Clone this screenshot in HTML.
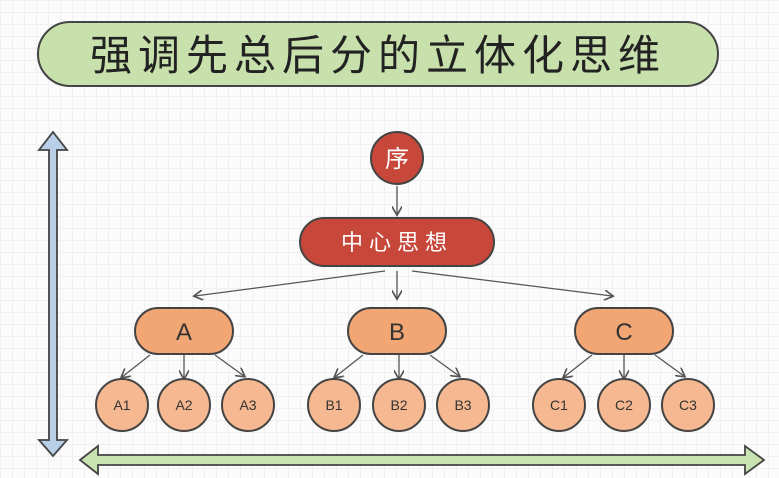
<!DOCTYPE html>
<html><head><meta charset="utf-8"><style>
body{margin:0;width:779px;height:478px;overflow:hidden;background:#fbfbfb;
background-image:linear-gradient(#f0f0f0 1px,transparent 1px),linear-gradient(90deg,#f0f0f0 1px,transparent 1px);background-size:12px 12px;}
svg{position:absolute;left:0;top:0}
text{font-family:"Liberation Sans","WenQuanYi Zen Hei","Noto Sans CJK SC",sans-serif;}
</style></head><body>
<svg width="779" height="478" viewBox="0 0 779 478">
<defs><marker id="a" markerWidth="8" markerHeight="8" refX="6" refY="4" orient="auto"><path d="M0,0 L7,4 L0,8" fill="none" stroke="#555" stroke-width="1.3"/></marker></defs>
<rect x="38" y="22" width="680" height="64" rx="32" fill="#c8e0ac" stroke="#444" stroke-width="2"/>
<text x="378" y="70" font-size="42" text-anchor="middle" fill="#222" letter-spacing="6">强调先总后分的立体化思维</text>
<!-- vertical arrow -->
<path d="M49,440 L49,150 L39,150 L53,132 L67,150 L57,150 L57,440 L67,440 L53,456 L39,440 Z" fill="#b9cfe8" stroke="#444" stroke-width="1.8"/>
<!-- horizontal arrow -->
<path d="M98,455 L745,455 L745,446 L764,460 L745,474 L745,465 L98,465 L98,474 L80,460 L98,446 Z" fill="#c9e2b2" stroke="#444" stroke-width="1.8"/>
<g stroke="#555" stroke-width="1.3" marker-end="url(#a)" fill="none">
<line x1="397" y1="186" x2="397" y2="214"/>
<line x1="385" y1="271" x2="195" y2="296"/>
<line x1="397" y1="271" x2="397" y2="298"/>
<line x1="412" y1="271" x2="612" y2="296"/>
<line x1="150" y1="355" x2="122" y2="377"/>
<line x1="184" y1="355" x2="184" y2="378"/>
<line x1="215" y1="355" x2="244" y2="376"/>
<line x1="363" y1="355" x2="335" y2="377"/>
<line x1="399" y1="355" x2="399" y2="378"/>
<line x1="430" y1="355" x2="459" y2="376"/>
<line x1="592" y1="355" x2="564" y2="377"/>
<line x1="624" y1="355" x2="624" y2="378"/>
<line x1="655" y1="355" x2="684" y2="376"/>
</g>
<circle cx="397" cy="158" r="26" fill="#c7473a" stroke="#444" stroke-width="2"/>
<text x="397" y="167" font-size="24" text-anchor="middle" fill="#fff">序</text>
<rect x="300" y="218" width="194" height="48" rx="24" fill="#c7473a" stroke="#444" stroke-width="2"/>
<text x="397" y="250" font-size="22" text-anchor="middle" fill="#fff" letter-spacing="6">中心思想</text>
<g stroke="#444" stroke-width="2" fill="#f2a674">
<rect x="135" y="308" width="98" height="46" rx="23"/>
<rect x="348" y="308" width="98" height="46" rx="23"/>
<rect x="575" y="308" width="98" height="46" rx="23"/>
</g>
<g font-size="24" text-anchor="middle" fill="#333">
<text x="184" y="340">A</text><text x="397" y="340">B</text><text x="624" y="340">C</text>
</g>
<g stroke="#444" stroke-width="2" fill="#f5b890">
<circle cx="122" cy="405" r="26"/><circle cx="184" cy="405" r="26"/><circle cx="248" cy="405" r="26"/>
<circle cx="334" cy="405" r="26"/><circle cx="399" cy="405" r="26"/><circle cx="463" cy="405" r="26"/>
<circle cx="559" cy="405" r="26"/><circle cx="624" cy="405" r="26"/><circle cx="688" cy="405" r="26"/>
</g>
<g font-size="14" text-anchor="middle" fill="#333">
<text x="122" y="410">A1</text><text x="184" y="410">A2</text><text x="248" y="410">A3</text>
<text x="334" y="410">B1</text><text x="399" y="410">B2</text><text x="463" y="410">B3</text>
<text x="559" y="410">C1</text><text x="624" y="410">C2</text><text x="688" y="410">C3</text>
</g>
</svg>
</body></html>
